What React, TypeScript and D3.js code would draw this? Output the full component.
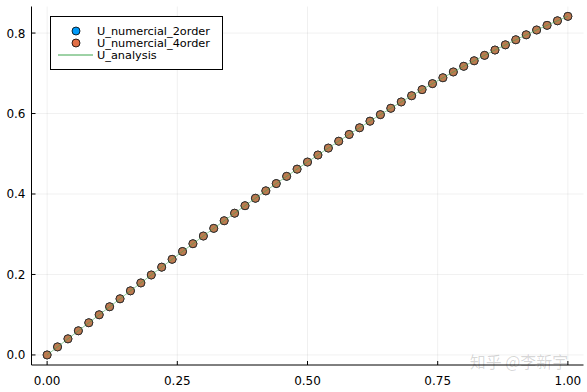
import React from "react";
import * as d3 from "d3";

const xValues = [0, 0.02, 0.04, 0.06, 0.08, 0.1, 0.12, 0.14, 0.16, 0.18, 0.2, 0.22, 0.24, 0.26, 0.28, 0.3, 0.32, 0.34, 0.36, 0.38, 0.4, 0.42, 0.44, 0.46, 0.48, 0.5, 0.52, 0.54, 0.56, 0.58, 0.6, 0.62, 0.64, 0.66, 0.68, 0.7, 0.72, 0.74, 0.76, 0.78, 0.8, 0.82, 0.84, 0.86, 0.88, 0.9, 0.92, 0.94, 0.96, 0.98, 1.0];
const uAnalysis = [0, 0.02, 0.04, 0.06, 0.08, 0.0998, 0.1197, 0.1395, 0.1593, 0.179, 0.1987, 0.2182, 0.2377, 0.2571, 0.2764, 0.2955, 0.3146, 0.3335, 0.3523, 0.3709, 0.3894, 0.4078, 0.4259, 0.4439, 0.4618, 0.4794, 0.4969, 0.5141, 0.5312, 0.548, 0.5646, 0.581, 0.5972, 0.6131, 0.6288, 0.6442, 0.6594, 0.6743, 0.6889, 0.7033, 0.7174, 0.7311, 0.7446, 0.7578, 0.7707, 0.7833, 0.7956, 0.8076, 0.8192, 0.8305, 0.8415];
const u2order = [0, 0.02, 0.04, 0.06, 0.08, 0.0998, 0.1197, 0.1395, 0.1593, 0.179, 0.1987, 0.2182, 0.2377, 0.2571, 0.2764, 0.2955, 0.3146, 0.3335, 0.3523, 0.3709, 0.3894, 0.4078, 0.4259, 0.4439, 0.4618, 0.4794, 0.4969, 0.5141, 0.5312, 0.548, 0.5646, 0.581, 0.5972, 0.6131, 0.6288, 0.6442, 0.6594, 0.6743, 0.6889, 0.7033, 0.7174, 0.7311, 0.7446, 0.7578, 0.7707, 0.7833, 0.7956, 0.8076, 0.8192, 0.8305, 0.8415];
const u4order = [0, 0.02, 0.04, 0.06, 0.08, 0.0998, 0.1197, 0.1395, 0.1593, 0.179, 0.1987, 0.2182, 0.2377, 0.2571, 0.2764, 0.2955, 0.3146, 0.3335, 0.3523, 0.3709, 0.3894, 0.4078, 0.4259, 0.4439, 0.4618, 0.4794, 0.4969, 0.5141, 0.5312, 0.548, 0.5646, 0.581, 0.5972, 0.6131, 0.6288, 0.6442, 0.6594, 0.6743, 0.6889, 0.7033, 0.7174, 0.7311, 0.7446, 0.7578, 0.7707, 0.7833, 0.7956, 0.8076, 0.8192, 0.8305, 0.8415];
const xTicks = [0, 0.25, 0.5, 0.75, 1.0];
const yTicks = [0, 0.2, 0.4, 0.6, 0.8];
const seriesNames = ["U_numercial_2order", "U_numercial_4order", "U_analysis"];

const W = 587, H = 392;
const FONT = "DejaVu Sans, sans-serif";

export default function App() {
  const x = d3.scaleLinear().domain([-0.03, 1.03]).range([31.5, 583.5]);
  const y = d3.scaleLinear().domain([-0.025, 0.866]).range([365, 6.5]);
  const line = d3.line<number>().x((_, i) => x(xValues[i])).y((d) => y(d));
  const [x0, x1] = x.range();
  const [y0, y1] = y.range();
  return (
    <svg width={W} height={H} style={{ position: "fixed", left: 0, top: 0, background: "#fff" }} fontFamily={FONT}>
      <rect width={W} height={H} fill="#fff" />
      {xTicks.map((t) => (
        <line key={"gx" + t} x1={x(t)} x2={x(t)} y1={y0} y2={y1} stroke="#000" strokeOpacity={0.1} strokeWidth={0.6} />
      ))}
      {yTicks.map((t) => (
        <line key={"gy" + t} x1={x0} x2={x1} y1={y(t)} y2={y(t)} stroke="#000" strokeOpacity={0.1} strokeWidth={0.6} />
      ))}
      <line x1={x0} x2={x1} y1={y0} y2={y0} stroke="#000" strokeWidth={1} />
      <line x1={x0} x2={x0} y1={y0} y2={y1} stroke="#000" strokeWidth={1} />
      {xTicks.map((t) => (
        <g key={"tx" + t}>
          <line x1={x(t)} x2={x(t)} y1={y0} y2={y0 - 4} stroke="#000" strokeWidth={1} />
          <text x={x(t)} y={y0 + 19.5} textAnchor="middle" fontSize={12} fill="#000">{t.toFixed(2)}</text>
        </g>
      ))}
      {yTicks.map((t) => (
        <g key={"ty" + t}>
          <line x1={x0} x2={x0 + 4} y1={y(t)} y2={y(t)} stroke="#000" strokeWidth={1} />
          <text x={x0 - 6} y={y(t) + 4.5} textAnchor="end" fontSize={12} fill="#000">{t.toFixed(1)}</text>
        </g>
      ))}
      {u2order.map((v, i) => (
        <circle key={"a" + i} cx={x(xValues[i])} cy={y(v)} r={4} fill="#009af9" stroke="#000" strokeWidth={0.8} />
      ))}
      {u4order.map((v, i) => (
        <circle key={"b" + i} cx={x(xValues[i])} cy={y(v)} r={4} fill="#bd7a50" stroke="#222" strokeWidth={0.8} />
      ))}
      <path d={line(uAnalysis) || ""} fill="none" stroke="#3da44d" strokeWidth={0.8} strokeOpacity={0.7} />
      <text x={519} y={368} textAnchor="middle" fontSize={16} fill="#000" fillOpacity={0.16} fontFamily="Noto Sans CJK SC">知乎 @李新宇</text>
      <g>
        <rect x={50.5} y={16.5} width={172} height={53} fill="#fff" stroke="#000" strokeWidth={1} />
        <circle cx={76} cy={31} r={4} fill="#009af9" stroke="#000" strokeWidth={0.8} />
        <circle cx={76} cy={43} r={4} fill="#e26f46" stroke="#000" strokeWidth={0.8} />
        <line x1={58} x2={93} y1={55} y2={55} stroke="#3da44d" strokeWidth={1} />
        {seriesNames.map((n, i) => (
          <text key={n} x={97} y={35 + i * 12} fontSize={11.3} fill="#000">{n}</text>
        ))}
      </g>
    </svg>
  );
}
